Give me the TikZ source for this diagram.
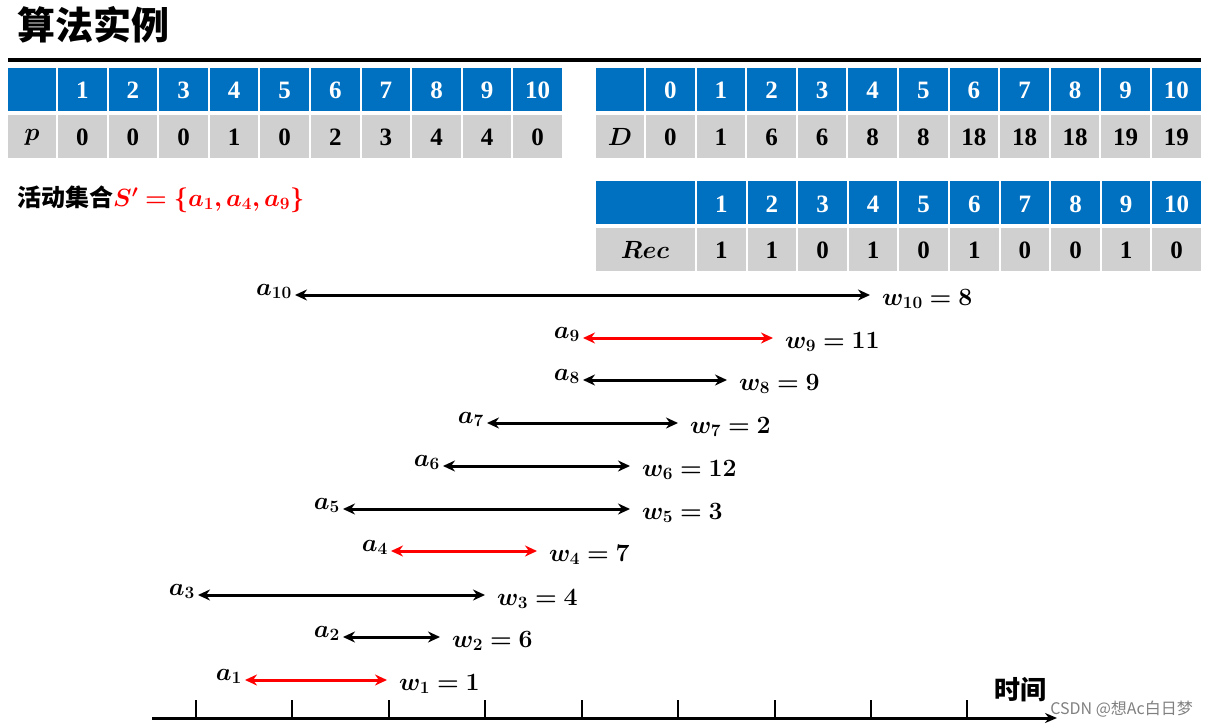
\documentclass[tikz,border=0pt]{standalone}
\usepackage{fontspec}
\usepackage{amsmath,bm}
\setmainfont{Liberation Serif}
\newfontfamily\cjk{Noto Sans CJK SC}
\usetikzlibrary{arrows.meta}
\definecolor{hblue}{HTML}{0070C0}
\definecolor{cgray}{HTML}{D0D0D0}
\begin{document}
\begin{tikzpicture}[x=1pt,y=-1pt,
  hd/.style={fill=hblue,draw=none,text=white,font=\bfseries\fontsize{25}{25}\selectfont,inner sep=0,anchor=center},
  cl/.style={fill=cgray,draw=none,text=black,font=\bfseries\fontsize{25}{25}\selectfont,inner sep=0},
  arr/.style={{Stealth[length=12pt,width=11pt]}-{Stealth[length=12pt,width=11pt]},line width=3pt},
  lab/.style={font=\fontsize{25}{25}\selectfont,inner sep=0},
  tk/.style={line width=2.5pt}]
\useasboundingbox (0,0) rectangle (1208,728);
% title
\node[anchor=west,font=\cjk\bfseries\fontsize{38}{38}\selectfont,inner sep=0] (title) at (17,25) {算法实例};
\draw[line width=3.5pt] (8,60) -- (1201,60);
% left table
\fill[hblue] (8,68) rectangle (56,111);
\fill[cgray] (8,115) rectangle (56,158);
\node[lab] (pl) at (32,137) {$\bm{p}$};
\foreach \v [count=\i from 1] in {0,0,0,1,0,2,3,4,4,0}{
  \pgfmathsetmacro\xa{58+(\i-1)*50.6}
  \fill[hblue] (\xa,68) rectangle ++(48.6,43);
  \fill[cgray] (\xa,115) rectangle ++(48.6,43);
  \node[hd] (lh\i) at (\xa+24.3,90) {\i};
  \node[cl] (lv\i) at (\xa+24.3,137) {\v};
}
% D table
\fill[hblue] (596,68) rectangle (644,111);
\fill[cgray] (596,115) rectangle (644,158);
\node[lab] (dl) at (620,137) {$\bm{D}$};
\foreach \v [count=\i from 0] in {0,1,6,6,8,8,18,18,18,19,19}{
  \pgfmathsetmacro\xa{646+\i*50.6}
  \fill[hblue] (\xa,68) rectangle ++(48.6,43);
  \fill[cgray] (\xa,115) rectangle ++(48.6,43);
  \node[hd] (dh\i) at (\xa+24.3,90) {\i};
  \node[cl] (dv\i) at (\xa+24.3,137) {\v};
}
% Rec table
\fill[hblue] (596,181) rectangle (695,224);
\fill[cgray] (596,228) rectangle (695,271);
\node[lab] (rl) at (645,250) {$\bm{Rec}$};
\foreach \v [count=\i from 1] in {1,1,0,1,0,1,0,0,1,0}{
  \pgfmathsetmacro\xa{697+(\i-1)*50.6}
  \fill[hblue] (\xa,181) rectangle ++(48.6,43);
  \fill[cgray] (\xa,228) rectangle ++(48.6,43);
  \node[hd] (rh\i) at (\xa+24.3,204) {\i};
  \node[cl] (rv\i) at (\xa+24.3,250) {\v};
}
\node[anchor=west,inner sep=0] (S) at (17,199) {{\cjk\bfseries\fontsize{24}{24}\selectfont 活动集合}\fontsize{25}{25}\selectfont\color{red}$\bm{S' = \{a_1, a_4, a_9\}}$};
% arrows
\foreach \n/\xs/\xe/\y/\c/\w in {10/295/870/295/black/8, 9/583/773/338/red/11, 8/583/727/380/black/9, 7/487/678/423/black/2, 6/443/630/466/black/12, 5/343/630/509/black/3, 4/391/537/551/red/7, 3/198/485/595/black/4, 2/343/440/637/black/6, 1/245/387/680/red/1}{
  \coordinate (s\n) at (\xs,\y);
  \coordinate (e\n) at (\xe,\y);
  \draw[arr,color=\c] (s\n) -- (e\n);
  \node[lab,anchor=south east] (a\n) at (\xs-3,\y+4) {$\bm{a_{\n}}$};
  \node[lab,anchor=west] (w\n) at (\xe+12,\y+4) {$\bm{w_{\n} = \w}$};
}
% axis
\coordinate (ax0) at (152,718);
\coordinate (ax1) at (1057,718);
\draw[line width=3pt,-{Stealth[length=12pt,width=10pt]}] (ax0) -- (ax1);
\foreach \x in {196,292,389,485,582,678,775,871,967}{\draw[tk] (\x,700) -- (\x,718);}
\node[font=\cjk\bfseries\fontsize{26}{26}\selectfont,inner sep=0] (time) at (1020,690) {时间};
\node[font=\cjk\fontsize{16}{16}\selectfont,text=gray,anchor=east,inner sep=0] (wm) at (1193,709) {CSDN @想Ac白日梦};
\end{tikzpicture}
\end{document}
